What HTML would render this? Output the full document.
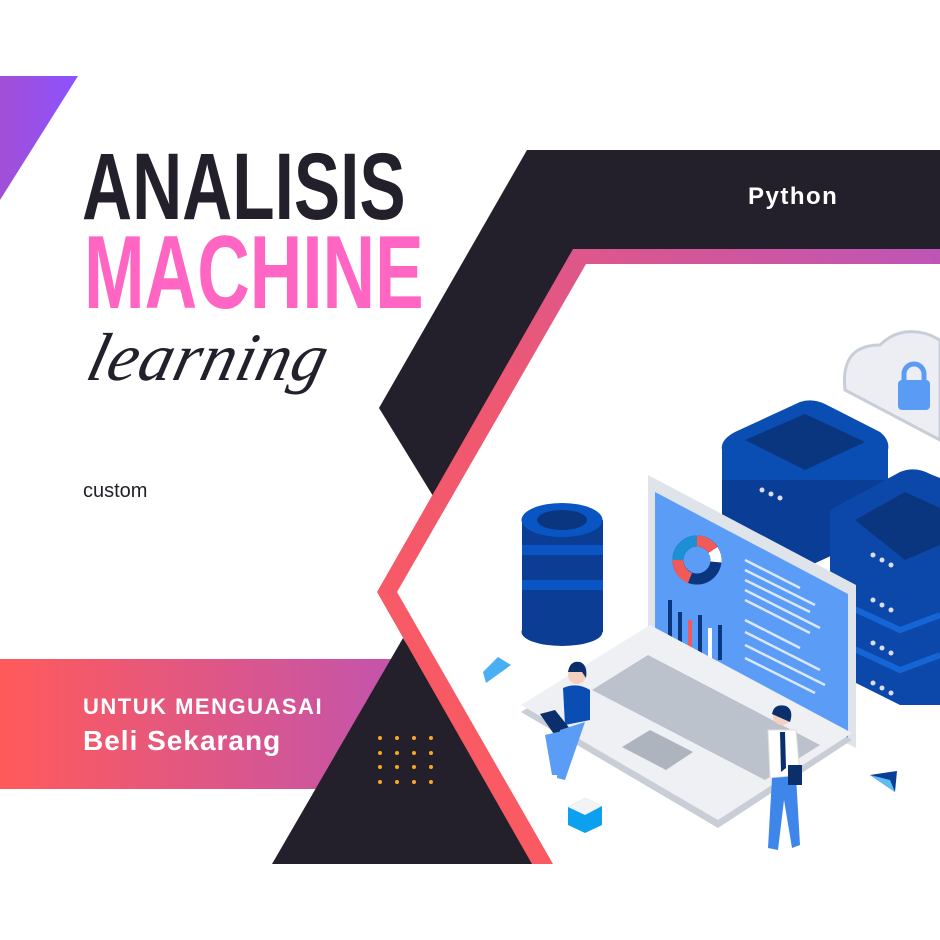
<!DOCTYPE html>
<html><head><meta charset="utf-8"><style>
html,body{margin:0;padding:0;background:#fff;}
svg{display:block;}
</style></head><body>
<svg width="940" height="940" viewBox="0 0 940 940" xmlns="http://www.w3.org/2000/svg">
<defs>
<linearGradient id="pur" x1="0" y1="0" x2="1" y2="0"><stop offset="0" stop-color="#a24fd6"/><stop offset="1" stop-color="#8c52ff"/></linearGradient>
<linearGradient id="band" x1="0" y1="0" x2="1" y2="0"><stop offset="0" stop-color="#ff5a5a"/><stop offset="1" stop-color="#c254ad"/></linearGradient>
<linearGradient id="hex" x1="0" y1="1" x2="1" y2="0"><stop offset="0" stop-color="#ff5b5b"/><stop offset="0.5" stop-color="#ee5873"/><stop offset="1" stop-color="#bd55b8"/></linearGradient>
</defs>
<rect width="940" height="940" fill="#fff"/>
<polygon points="0,76 78,76 0,200" fill="url(#pur)"/>
<rect x="0" y="659" width="400" height="130" fill="url(#band)"/>
<polygon points="527,150 940,150 940,300 460,540 379,408" fill="#23202b"/>
<polygon points="272,864 403,638 545,864" fill="#23202b"/>
<polygon points="573,249 940,249 940,864 532,864 377,592" fill="url(#hex)"/>
<polygon points="586,264 940,264 940,864 553,864 397,592" fill="#fff"/>
<circle cx="380" cy="738" r="2" fill="#f9a826"/><circle cx="397" cy="738" r="2" fill="#f9a826"/><circle cx="414" cy="738" r="2" fill="#f9a826"/><circle cx="431" cy="738" r="2" fill="#f9a826"/>
<circle cx="380" cy="753" r="2" fill="#f9a826"/><circle cx="397" cy="753" r="2" fill="#f9a826"/><circle cx="414" cy="753" r="2" fill="#f9a826"/><circle cx="431" cy="753" r="2" fill="#f9a826"/>
<circle cx="380" cy="767" r="2" fill="#f9a826"/><circle cx="397" cy="767" r="2" fill="#f9a826"/><circle cx="414" cy="767" r="2" fill="#f9a826"/><circle cx="431" cy="767" r="2" fill="#f9a826"/>
<circle cx="380" cy="782" r="2" fill="#f9a826"/><circle cx="397" cy="782" r="2" fill="#f9a826"/><circle cx="414" cy="782" r="2" fill="#f9a826"/><circle cx="431" cy="782" r="2" fill="#f9a826"/>

<!-- cloud -->
<path d="M845,390 Q840,345 880,345 Q900,325 930,335 L940,340 L940,440 Z" fill="#eceef3" stroke="#c8ced8" stroke-width="3"/>
<rect x="898" y="380" width="32" height="30" rx="4" fill="#5a9bf5"/>
<path d="M904,382 v-8 a10,10 0 0 1 20,0 v8" fill="none" stroke="#5a9bf5" stroke-width="5"/>
<!-- server top -->
<path d="M722,450 Q720,440 735,432 L800,402 Q812,398 825,404 L880,432 Q890,440 888,450 L888,500 L722,500 Z" fill="#0a4db3"/>
<path d="M722,480 L722,530 L800,570 L888,530 L888,480 Z" fill="#0a3e96"/>
<path d="M745,440 L805,414 L865,442 L805,470 Z" fill="#0a3680"/>
<circle cx="762" cy="490" r="2.5" fill="#dde"/><circle cx="771" cy="494" r="2.5" fill="#dde"/><circle cx="780" cy="498" r="2.5" fill="#dde"/>
<!-- server right stack -->
<path d="M830,510 L900,472 Q915,466 930,474 L940,478 L940,705 L900,705 L830,670 Z" fill="#0b48aa"/>
<path d="M855,520 L905,492 L940,508 L940,545 L905,560 Z" fill="#0a3680"/>
<path d="M835,600 L900,630 L940,615 M835,640 L900,670 L940,655" stroke="#1565d6" stroke-width="6" fill="none"/>
<circle cx="873" cy="555" r="2.5" fill="#dde"/><circle cx="882" cy="560" r="2.5" fill="#dde"/><circle cx="891" cy="565" r="2.5" fill="#dde"/>
<circle cx="873" cy="600" r="2.5" fill="#dde"/><circle cx="882" cy="605" r="2.5" fill="#dde"/><circle cx="891" cy="610" r="2.5" fill="#dde"/>
<circle cx="873" cy="643" r="2.5" fill="#dde"/><circle cx="882" cy="648" r="2.5" fill="#dde"/><circle cx="891" cy="653" r="2.5" fill="#dde"/>
<circle cx="873" cy="683" r="2.5" fill="#dde"/><circle cx="882" cy="688" r="2.5" fill="#dde"/><circle cx="891" cy="693" r="2.5" fill="#dde"/>
<!-- cylinder -->
<rect x="522" y="520" width="81" height="112" fill="#0a3d93"/>
<ellipse cx="562" cy="632" rx="40.5" ry="14" fill="#0a3d93"/>
<rect x="522" y="545" width="81" height="10" fill="#0a55c4"/>
<rect x="522" y="580" width="81" height="10" fill="#0a55c4"/>
<ellipse cx="562" cy="520" rx="40.5" ry="17" fill="#0a55c4"/>
<ellipse cx="562" cy="520" rx="25" ry="10" fill="#0a3680"/>
<!-- laptop screen -->
<polygon points="648,475 856,585 856,748 648,640" fill="#dfe3ea"/>
<polygon points="655,492 848,594 848,742 655,640" fill="#5b9cf6"/>
<circle cx="697" cy="560" r="19" fill="none" stroke="#0a3680" stroke-width="11"/>
<path d="M678,560 A19,19 0 0 1 697,541" fill="none" stroke="#1d8fd4" stroke-width="11"/>
<path d="M697,541 A19,19 0 0 1 713,550" fill="none" stroke="#f25a5a" stroke-width="11"/>
<path d="M713,550 A19,19 0 0 1 716,562" fill="none" stroke="#fff" stroke-width="11"/>
<path d="M678,560 A19,19 0 0 0 690,578" fill="none" stroke="#f25a5a" stroke-width="11"/>
<g stroke-width="4"><line x1="670" y1="600" x2="670" y2="640" stroke="#0a3680"/><line x1="680" y1="612" x2="680" y2="645" stroke="#0a3680"/><line x1="690" y1="620" x2="690" y2="650" stroke="#f25a5a"/><line x1="700" y1="615" x2="700" y2="655" stroke="#0a3680"/><line x1="710" y1="628" x2="710" y2="660" stroke="#fff"/><line x1="720" y1="625" x2="720" y2="660" stroke="#0a3680"/></g>
<g stroke="#dbe7fb" stroke-width="2.5"><line x1="745" y1="560" x2="800" y2="588"/><line x1="745" y1="570" x2="815" y2="605"/><line x1="745" y1="580" x2="810" y2="612"/><line x1="745" y1="590" x2="820" y2="628"/><line x1="745" y1="600" x2="810" y2="633"/><line x1="745" y1="620" x2="800" y2="648"/><line x1="745" y1="632" x2="820" y2="670"/><line x1="745" y1="645" x2="825" y2="685"/><line x1="745" y1="658" x2="815" y2="693"/></g>
<!-- laptop base -->
<polygon points="521,712 650,632 852,740 718,828" fill="#c9ced6"/>
<polygon points="521,705 650,625 852,733 718,820" fill="#eef0f4"/>
<polygon points="592,690 648,655 820,745 765,780" fill="#bcc2cc"/>
<polygon points="622,747 650,730 693,752 666,770" fill="#aeb4bd"/>
<!-- people -->
<circle cx="577" cy="675" r="9" fill="#f5d0c0"/><path d="M568,672 Q570,660 580,662 Q588,665 586,678 L582,672 Z" fill="#0a2f6b"/>
<path d="M563,688 Q577,682 590,690 L590,720 L565,725 Z" fill="#0a4db3"/>
<polygon points="540,714 555,710 575,735 558,740" fill="#0a2f6b"/>
<path d="M545,735 L575,728 L560,775 L552,775 Z M560,730 L585,722 L565,780 L557,778 Z" fill="#5b9cf6"/>
<circle cx="782" cy="716" r="9" fill="#f5d0c0"/><path d="M772,714 Q774,703 786,706 Q794,710 790,722 Z" fill="#0a2f6b"/>
<path d="M768,730 L796,730 L800,775 L770,778 Z" fill="#fff" stroke="#ddd"/>
<polygon points="780,732 785,732 786,768 781,772" fill="#0a2f6b"/>
<path d="M772,778 L796,776 L800,845 L792,848 L784,800 L778,850 L768,848 Z" fill="#3f86ea"/>
<rect x="788" y="765" width="14" height="20" fill="#0a2f6b"/>
<!-- small shapes -->
<polygon points="483,672 498,657 511,665 486,683" fill="#4aaef2"/>
<polygon points="568,807 585,798 602,806 602,825 585,833 568,825" fill="#0da0ef"/><polygon points="568,807 585,798 602,806 585,815" fill="#f2f3f5"/>
<polygon points="870,775 897,771 895,792" fill="#0a3e96"/><polygon points="870,775 895,792 890,780" fill="#5fbdf6"/>
<!-- text -->
<text x="0" y="0" transform="translate(82,219) scale(0.73,1)" font-family="Liberation Sans, sans-serif" font-weight="bold" font-size="95" fill="#23202b">ANALISIS</text>
<text x="0" y="0" transform="translate(84,308) scale(0.70,1)" font-family="Liberation Sans, sans-serif" font-weight="bold" font-size="104" fill="#ff66c4">MACHINE</text>
<text x="0" y="0" transform="translate(84,380) skewX(-14)" font-family="Liberation Serif, serif" font-style="italic" font-size="68" fill="#23202b" letter-spacing="1">learning</text>
<text x="83" y="497" font-family="Liberation Sans, sans-serif" font-size="20" fill="#23202b">custom</text>
<text x="83" y="714" font-family="Liberation Sans, sans-serif" font-weight="bold" font-size="22" fill="#fff" letter-spacing="1.5">UNTUK MENGUASAI</text>
<text x="83" y="750" font-family="Liberation Sans, sans-serif" font-weight="bold" font-size="28" fill="#fff" letter-spacing="1">Beli Sekarang</text>
<text x="748" y="204" font-family="Liberation Sans, sans-serif" font-weight="bold" font-size="24" fill="#fff" letter-spacing="1.5">Python</text>
</svg>
</body></html>
